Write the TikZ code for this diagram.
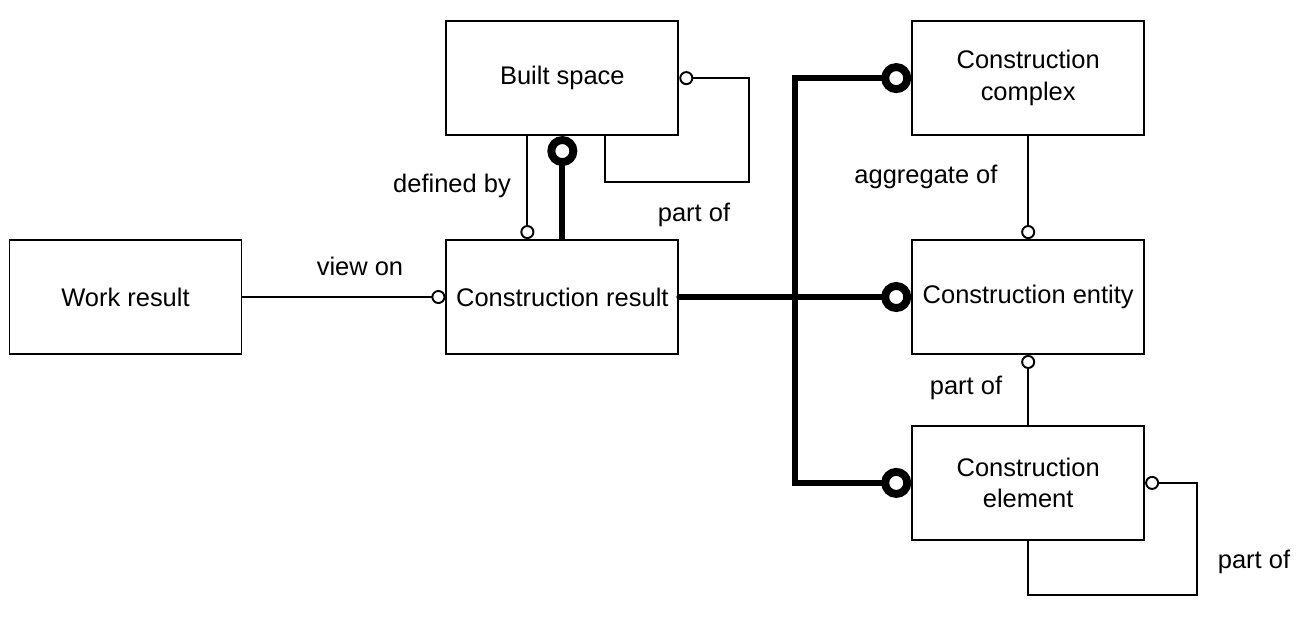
\documentclass[tikz,border=0pt]{standalone}
\usepackage{fontspec}
\setmainfont{Liberation Sans}
\usetikzlibrary{positioning, arrows.meta, calc}

\begin{document}
\begin{tikzpicture}[
    x=0.02cm, y=-0.02cm,
    node distance=2.06cm and 4.06cm,
    concept/.style={
        rectangle,
        draw,
        line width=1.1pt,
        minimum width=4.64cm,
        minimum height=2.28cm,
        inner sep=0pt,
        align=center,
        font=\fontsize{14.5}{18}\selectfont
    },
    lbl/.style={font=\fontsize{14.5}{18}\selectfont},
    rel/.style={line width=1.1pt, -{Circle[open, length=0.28cm, width=0.28cm]}},
    agg/.style={line width=3.4pt, -{Circle[open, length=0.6cm, width=0.6cm, line width=4.5pt]}}
]
\useasboundingbox (0,0) rectangle (1313,619);

\node[concept] (work) at (125.5,297) {Work result};
\node[concept, right=of work] (cres) {Construction result};
\node[concept, above=of cres] (bspace) {Built space};
\node[concept, right=4.64cm of cres] (entity) {Construction entity};
\node[concept, above=of entity] (complex) {Construction\\complex};
\node[concept, below=1.4cm of entity] (element) {Construction\\element};

\coordinate (hub) at ($(cres.east)!0.5!(entity.west)$);

\draw[rel] (work) -- (cres);
\draw[rel] ([xshift=-0.7cm]bspace.south) -- ([xshift=-0.7cm]cres.north);
\draw[agg] (cres) -- (bspace);
\draw[rel] ([xshift=0.86cm]bspace.south) -- ++(0,46) -| ([xshift=1.4cm]bspace.east) -- (bspace.east);

\draw[agg, line cap=round] (cres.east) -- (entity.west);
\draw[agg] (hub) |- (complex.west);
\draw[agg] (hub) |- (element.west);

\draw[rel] (complex) -- (entity);
\draw[rel] (element) -- (entity);
\draw[rel] (element.south) -- ++(0,54) -| ([xshift=1.04cm]element.east) -- (element.east);

\node[lbl] (lview) at (360,266) {view on};
\node[lbl] (ldef) at (452,186) {defined by};
\node[lbl] (lpart) at (694,215) {part of};
\node[lbl] (lagg) at (926,177) {aggregate of};
\node[lbl] (lpart2) at (966,388) {part of};
\node[lbl] (lpart3) at (1254,562) {part of};

\end{tikzpicture}
\end{document}
